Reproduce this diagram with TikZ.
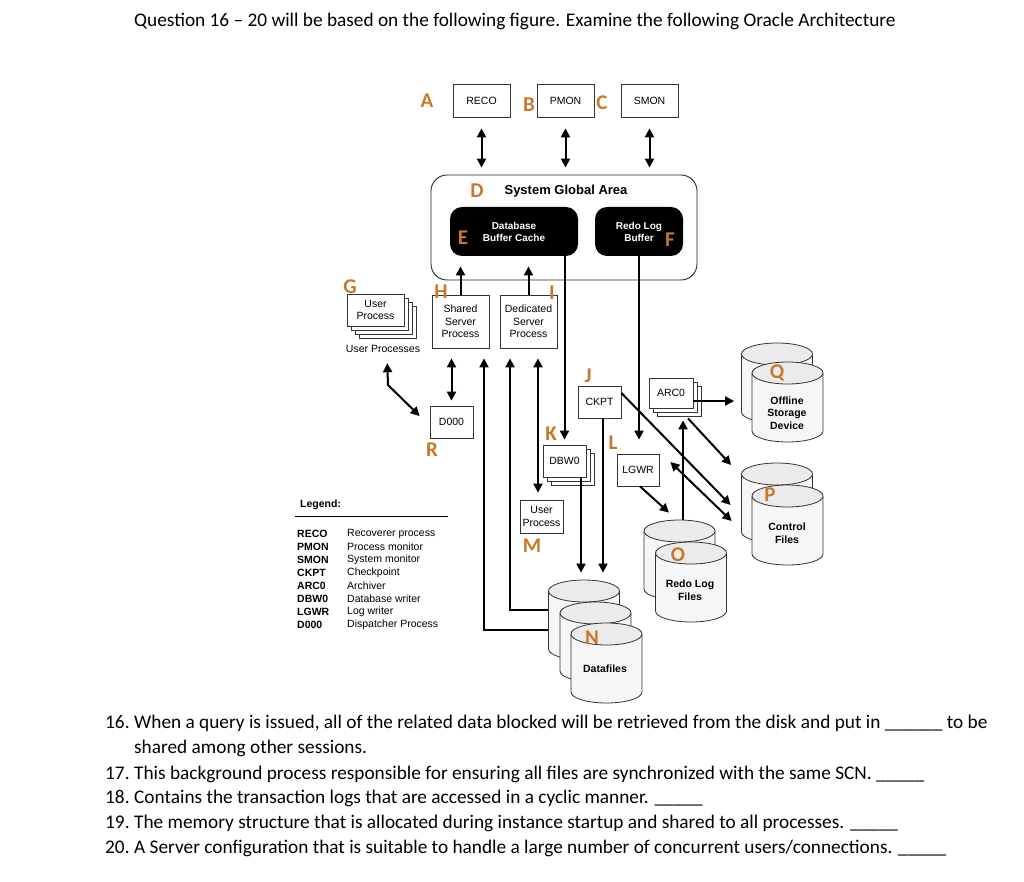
\documentclass[tikz,border=0pt]{standalone}
\usepackage{fontspec}
\setmainfont{Carlito}
\newfontfamily\diagfont{Liberation Sans}
\usepackage{xcolor}
\usetikzlibrary{positioning, shadows, arrows.meta}

\definecolor{tagorange}{RGB}{200,120,40}

\tikzset{
  plainbox/.style={draw=black!80, fill=white, line width=0.8pt, align=center, inner sep=1pt,
    font=\diagfont\fontsize{10.5}{12.5}\selectfont},
  box/.style={plainbox, drop shadow={shadow xshift=1.2pt, shadow yshift=-1.2pt, opacity=0.4}},
  stack/.style={plainbox,
    copy shadow={shadow xshift=8pt, shadow yshift=-8pt, draw=black!80, line width=0.8pt},
    copy shadow={shadow xshift=4pt, shadow yshift=-4pt, draw=black!80, line width=0.8pt}},
  stackthree/.style={plainbox,
    copy shadow={shadow xshift=12pt, shadow yshift=-12pt, draw=black!80, line width=0.8pt},
    stack},
  mem/.style={fill=black, rounded corners=12pt, text=white, align=center,
    font=\diagfont\bfseries\fontsize{10}{12}\selectfont},
  sgabox/.style={draw=black!85, line width=0.9pt, rounded corners=16pt},
  drumbody/.style={draw=black!80, line width=0.8pt, fill=gray!7},
  drumlid/.style={draw=black!80, line width=0.8pt, fill=gray!16, ellipse, inner sep=0pt,
    minimum width=71pt, minimum height=22pt},
  drumtext/.style={align=center, font=\diagfont\bfseries\fontsize{10.5}{12.5}\selectfont},
  tag/.style={text=tagorange, inner sep=0pt, font=\bfseries\fontsize{21}{21}\selectfont},
  legkey/.style={anchor=west, inner sep=0pt, font=\diagfont\bfseries\fontsize{10.5}{12}\selectfont},
  legtext/.style={anchor=west, inner sep=0pt, font=\diagfont\fontsize{10.5}{12}\selectfont},
  qline/.style={anchor=base west, inner sep=0pt, font=\fontsize{19.3}{23}\selectfont},
  arr/.style={line width=2pt, -{Triangle[length=9pt,width=9pt]}},
  dbl/.style={line width=2pt, {Triangle[length=9pt,width=9pt]}-{Triangle[length=9pt,width=9pt]}},
}
\usetikzlibrary{shapes.geometric}

% cylinder: name, x of centre, y of lid centre
\newcommand\drum[3]{%
  \filldraw[drumbody] (#2-35.5,#3) -- ++(0,-58) arc[start angle=180, end angle=360, x radius=35.5, y radius=11] -- ++(0,58);
  \node[drumlid] (#1) at (#2,#3) {};
}

\begin{document}
\begin{tikzpicture}[x=1pt, y=1pt]
    \useasboundingbox (0,0) rectangle (1024,-882);

    \node[qline] (title) at (134,-27) {Question 16 -- 20 will be based on the following figure. Examine the following Oracle Architecture};

    % background processes and the SGA
    \node[box, minimum width=57pt, minimum height=33pt] (reco) at (481.5,-100.5) {RECO};
    \node[box, minimum width=57pt, minimum height=33pt] (pmon) at (565.5,-100.5) {PMON};
    \node[box, minimum width=57pt, minimum height=33pt] (smon) at (649.5,-100.5) {SMON};

    \node[sgabox, minimum width=266pt, minimum height=105pt] (sga) at (564,-227.5) {};
    \node[font=\diagfont\bfseries\fontsize{13}{15}\selectfont] (sgatitle) at (566,-191) {System Global Area};
    \node[mem, minimum width=128pt, minimum height=49pt] (dbbc) at (514,-231.5) {Database\\Buffer Cache};
    \node[mem, minimum width=88pt, minimum height=49pt] (logbuf) at (639,-231.5) {Redo Log\\Buffer};

    \node[box, minimum width=57pt, minimum height=53pt] (ssp) at (460.5,-321.5) {Shared\\Server\\Process};
    \node[box, minimum width=57pt, minimum height=53pt] (dsp) at (528.5,-321.5) {Dedicated\\Server\\Process};
    \node[stackthree, minimum width=57pt, minimum height=32pt] (users) at (375.5,-310) {User\\Process};
    \node[font=\diagfont\fontsize{10.5}{12.5}\selectfont] (userslabel) at (383,-349) {User Processes};

    \node[box, minimum width=43pt, minimum height=32pt] (disp) at (451.5,-422) {D000};
    \node[box, minimum width=43pt, minimum height=32pt] (ckpt) at (599.5,-402) {CKPT};
    \node[stack, minimum width=44pt, minimum height=30pt] (arc) at (671,-393) {ARC0};
    \node[stack, minimum width=43pt, minimum height=32pt] (dbw) at (564.5,-461) {DBW0};
    \node[box, minimum width=42pt, minimum height=32pt] (lgwr) at (638,-470) {LGWR};
    \node[box, minimum width=43pt, minimum height=33pt] (uproc) at (541.5,-516.5) {User\\Process};

    % files
    \drum{offb}{777}{-354}
    \drum{offf}{787.5}{-373}
    \node[drumtext] (offlabel) at (787,-413) {Offline\\Storage\\Device};
    \drum{ctlb}{777}{-474}
    \drum{ctlf}{787.5}{-496}
    \node[drumtext] (ctllabel) at (787,-533) {Control\\Files};
    \drum{logfa}{679.5}{-531}
    \drum{logfb}{691}{-553}
    \node[drumtext] (loglabel) at (690,-590) {Redo Log\\Files};
    \drum{dfa}{584}{-591}
    \drum{dfb}{595.5}{-613}
    \drum{dfc}{606.5}{-634}
    \node[drumtext] (dflabel) at (605,-669) {Datafiles};

    % connectors
    \foreach \p in {reco, pmon, smon}
        \draw[dbl, shorten <=11pt, shorten >=7pt] (\p.south) -- (\p.south |- sga.north);
    \draw[arr, shorten >=-14pt] (ssp.north) -- (ssp.north |- sga.south);
    \draw[arr, shorten >=-14pt] (dsp.north) -- (dsp.north |- sga.south);
    \draw[arr, shorten >=5pt] (dbw.north |- dbbc.south) -- (dbw.north);
    \draw[arr, shorten >=14pt] (logbuf.south) -- (logbuf.south |- lgwr.north);
    \draw[dbl, shorten <=10pt, shorten >=5pt] (disp.north |- ssp.south) -- (disp.north);
    \draw[dbl, shorten <=10pt, shorten >=7pt] ([xshift=-3.5pt]uproc.north |- dsp.south) -- ([xshift=-3.5pt]uproc.north);
    \coordinate (bend) at (388,-385);
    \draw[dbl, shorten <=7pt] ([xshift=4pt]userslabel.south) -- (bend) -- ([xshift=-10pt,yshift=6pt]disp.west);
    \draw[arr, shorten >=7pt] ([xshift=16.5pt]dbw.south) -- ([xshift=16.5pt]dbw.south |- dfa.north);
    \draw[arr, shorten >=7pt] ([xshift=3.5pt]ckpt.south) -- ([xshift=3.5pt]ckpt.south |- dfa.north);
    \draw[arr, shorten >=10pt] ([yshift=-39pt]dfa.west) -| ([xshift=23.5pt]ssp.south);
    \draw[arr, shorten >=10pt] ([yshift=-19pt]dfa.west) -| ([xshift=-18.5pt]dsp.south);
    \draw[arr, shorten >=7pt] ([yshift=-8pt]arc.east) -- ([yshift=-8pt]arc.east -| offb.west);
    \draw[arr] ([xshift=17pt,yshift=-10pt]arc.south) -- ([xshift=-10pt,yshift=9pt]ctlb.west);
    \draw[arr] ([yshift=9pt]ckpt.east) -- ([xshift=-21pt,yshift=-9pt]ctlf.west);
    \draw[dbl] ([xshift=11pt,yshift=8pt]lgwr.east) -- ([xshift=-20pt,yshift=-25pt]ctlf.west);
    \draw[arr] ([xshift=2pt]lgwr.south) -- ([xshift=-10.5pt,yshift=7pt]logfa.north);
    \draw[arr, shorten >=12pt] ([xshift=3.5pt]logfa.north) -- ([xshift=3.5pt]logfa.north |- arc.south);

    % letters
    \foreach \l/\x/\y in {A/427/101, B/529/105, C/602/103, D/477/191, E/463/238, F/670/240,
        G/350/287, H/441/292, I/552/293, J/588/376, K/551/434, L/613/443, M/532/546,
        N/592/638, O/678/555, P/770/495, Q/777/373, R/432/450}
        \node[tag] (tag\l) at (\x,-\y) {\l};

    % legend
    \node[legkey] (legend) at (300,-505) {Legend:};
    \draw[line width=1pt] (295,-516) -- (448,-516);
    \foreach \k/\d [count=\i] in {RECO/Recoverer process, PMON/Process monitor, SMON/System monitor,
        CKPT/Checkpoint, ARC0/Archiver, DBW0/Database writer, LGWR/Log writer, D000/Dispatcher Process} {
        \node[legkey] (key\i) at (297,{-534-13*(\i-1)}) {\k};
        \node[legtext] (what\i) at (347,{-534-13*(\i-1)}) {\d};
    }

    % questions
    \node[qline] (n16) at (105,-728) {16.};
    \node[qline] (q16) at (134,-728) {When a query is issued, all of the related data blocked will be retrieved from the disk and put in \_\_\_\_\_\_ to be};
    \node[qline] (q16b) at (134,-753) {shared among other sessions.};
    \node[qline] (n17) at (105,-779) {17.};
    \node[qline] (q17) at (134,-779) {This background process responsible for ensuring all files are synchronized with the same SCN. \_\_\_\_\_};
    \node[qline] (n18) at (105,-803) {18.};
    \node[qline] (q18) at (134,-803) {Contains the transaction logs that are accessed in a cyclic manner. \_\_\_\_\_};
    \node[qline] (n19) at (105,-828) {19.};
    \node[qline] (q19) at (134,-828) {The memory structure that is allocated during instance startup and shared to all processes. \_\_\_\_\_};
    \node[qline] (n20) at (105,-853) {20.};
    \node[qline] (q20) at (134,-853) {A Server configuration that is suitable to handle a large number of concurrent users/connections. \_\_\_\_\_};
\end{tikzpicture}
\end{document}
